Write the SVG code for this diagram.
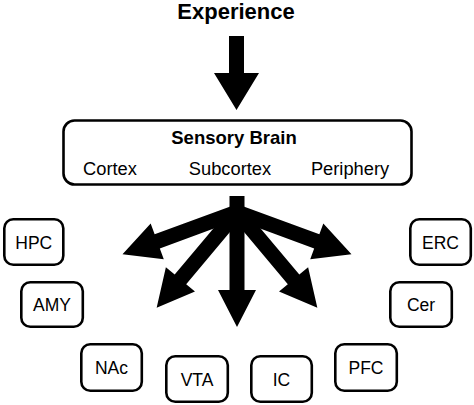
<svg xmlns="http://www.w3.org/2000/svg" width="474" height="405" viewBox="0 0 474 405">
<style>
  text { font-family: "Liberation Sans", Arial, sans-serif; fill: #000; }
  .title { font-size: 22px; font-weight: bold; }
  .head { font-size: 18.5px; font-weight: bold; }
  .sub { font-size: 18.3px; }
  .lbl { font-size: 17.5px; }
  .box { fill: #fff; stroke: #000; stroke-width: 2.6; }
  .arr { fill: #000; stroke: none; }
</style>

<text class="title" x="236" y="19" text-anchor="middle">Experience</text>

<g id="connectors">
  <path class="arr" d="M229,36 L244,36 L244,73 L259,73 L236.5,110 L214,73 L229,73 Z"/>
  <path class="arr" d="M229.5,196 L244.5,196 L244.5,290 L256,290 L237,327 L218,290 L229.5,290 Z"/>
  <g transform="translate(237,212)">
    <path class="arr" transform="rotate(69.8)" d="M-7.5,0 L-7.5,85 L-19,85 L0,122 L19,85 L7.5,85 L7.5,0 Z"/>
    <path class="arr" transform="rotate(-69.8)" d="M-7.5,0 L-7.5,85 L-19,85 L0,122 L19,85 L7.5,85 L7.5,0 Z"/>
    <path class="arr" transform="rotate(40)" d="M-7.5,0 L-7.5,88 L-19,88 L0,125 L19,88 L7.5,88 L7.5,0 Z"/>
    <path class="arr" transform="rotate(-40)" d="M-7.5,0 L-7.5,88 L-19,88 L0,125 L19,88 L7.5,88 L7.5,0 Z"/>
  </g>
</g>

<g id="sensory-brain">
  <rect class="box" x="63.5" y="120.5" width="348" height="64" rx="11" stroke-width="3"/>
  <text class="head" x="234" y="143.5" text-anchor="middle">Sensory Brain</text>
  <text class="sub" x="110" y="175" text-anchor="middle">Cortex</text>
  <text class="sub" x="230" y="175" text-anchor="middle">Subcortex</text>
  <text class="sub" x="350" y="175" text-anchor="middle">Periphery</text>
</g>

<g id="HPC"><rect class="box" x="4.3" y="219.3" width="59" height="45.5" rx="9"/><text class="lbl" x="33.8" y="248.5" text-anchor="middle">HPC</text></g>
<g id="ERC"><rect class="box" x="410.3" y="219.3" width="60.5" height="45.5" rx="9"/><text class="lbl" x="440.5" y="248.5" text-anchor="middle">ERC</text></g>
<g id="AMY"><rect class="box" x="21.3" y="282.3" width="61.5" height="44.5" rx="9"/><text class="lbl" x="52" y="311" text-anchor="middle">AMY</text></g>
<g id="Cer"><rect class="box" x="390.3" y="282.3" width="61.5" height="44.5" rx="9"/><text class="lbl" x="421" y="311" text-anchor="middle">Cer</text></g>
<g id="NAc"><rect class="box" x="81.3" y="344.3" width="60.5" height="46.5" rx="9"/><text class="lbl" x="111.5" y="374" text-anchor="middle">NAc</text></g>
<g id="PFC"><rect class="box" x="335.3" y="344.3" width="61.5" height="46.5" rx="9"/><text class="lbl" x="366" y="374" text-anchor="middle">PFC</text></g>
<g id="VTA"><rect class="box" x="166.3" y="356.3" width="61.5" height="45.5" rx="9"/><text class="lbl" x="197" y="385.5" text-anchor="middle">VTA</text></g>
<g id="IC"><rect class="box" x="251.3" y="356.3" width="60.5" height="45.5" rx="9"/><text class="lbl" x="281.5" y="385.5" text-anchor="middle">IC</text></g>
</svg>
